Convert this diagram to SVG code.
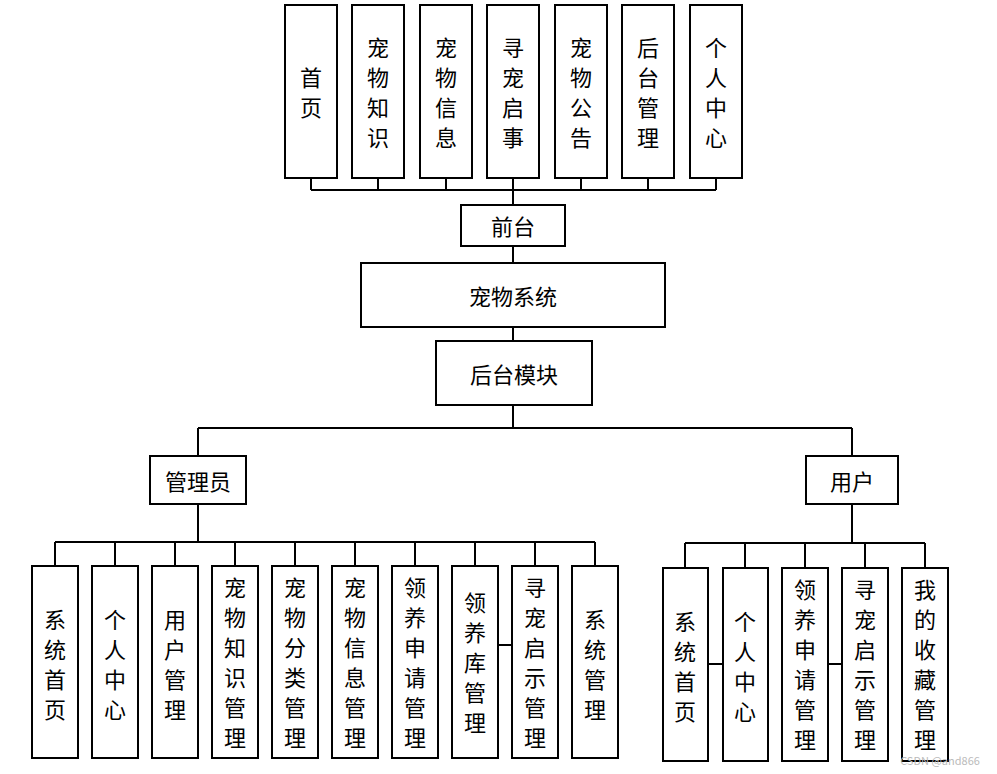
<svg xmlns="http://www.w3.org/2000/svg" width="997" height="774" viewBox="0 0 997 774">
<style>
rect{fill:#fff;stroke:#000;stroke-width:2}
text{font-family:"Noto Sans CJK SC","Liberation Sans",sans-serif;font-size:22px;fill:#000;text-anchor:middle;dominant-baseline:central}
.c{fill:none;stroke:#000;stroke-width:2}
</style>
<rect x="0" y="0" width="997" height="774" style="stroke:none"/>
<g id="connectors">
<path class="c" d="M311,178V190M378,178V190M446,178V190M513,178V190M581,178V190M648,178V190M716,178V190M311,190H716M513,190V205M513,246V263M513,327V341M513,405V428M198,428H852M198,428V456M852,428V456"/>
<path class="c" d="M198,504V542M55,542H595M55,542V566M115,542V566M175,542V566M235,542V566M295,542V566M355,542V566M415,542V566M475,542V566M535,542V566M595,542V566M498,645H512"/>
<path class="c" d="M852,504V543M685,543H925M685,543V568M745,543V568M805,543V568M865,543V568M925,543V568M708,664H723M828,664H842"/>
</g>
<g id="t1"><rect x="285" y="5" width="52" height="173"/><text x="311" y="76">首</text><text x="311" y="106">页</text></g>
<g id="t2"><rect x="352" y="5" width="52" height="173"/><text x="378" y="46">宠</text><text x="378" y="76">物</text><text x="378" y="106">知</text><text x="378" y="136">识</text></g>
<g id="t3"><rect x="420" y="5" width="52" height="173"/><text x="446" y="46">宠</text><text x="446" y="76">物</text><text x="446" y="106">信</text><text x="446" y="136">息</text></g>
<g id="t4"><rect x="487" y="5" width="52" height="173"/><text x="513" y="46">寻</text><text x="513" y="76">宠</text><text x="513" y="106">启</text><text x="513" y="136">事</text></g>
<g id="t5"><rect x="555" y="5" width="52" height="173"/><text x="581" y="46">宠</text><text x="581" y="76">物</text><text x="581" y="106">公</text><text x="581" y="136">告</text></g>
<g id="t6"><rect x="622" y="5" width="52" height="173"/><text x="648" y="46">后</text><text x="648" y="76">台</text><text x="648" y="106">管</text><text x="648" y="136">理</text></g>
<g id="t7"><rect x="690" y="5" width="52" height="173"/><text x="716" y="46">个</text><text x="716" y="76">人</text><text x="716" y="106">中</text><text x="716" y="136">心</text></g>
<g id="front"><rect x="461" y="205" width="104" height="41"/><text x="513" y="225">前台</text></g>
<g id="sys"><rect x="361" y="263" width="304" height="64"/><text x="513" y="295">宠物系统</text></g>
<g id="back"><rect x="436" y="341" width="156" height="64"/><text x="514" y="373">后台模块</text></g>
<g id="admin"><rect x="150" y="456" width="96" height="48"/><text x="198" y="480">管理员</text></g>
<g id="user"><rect x="806" y="456" width="92" height="48"/><text x="852" y="480">用户</text></g>
<g id="a1"><rect x="32" y="566" width="46" height="192"/><text x="55" y="618">系</text><text x="55" y="648">统</text><text x="55" y="678">首</text><text x="55" y="708">页</text></g>
<g id="a2"><rect x="92" y="566" width="46" height="192"/><text x="115" y="618">个</text><text x="115" y="648">人</text><text x="115" y="678">中</text><text x="115" y="708">心</text></g>
<g id="a3"><rect x="152" y="566" width="46" height="192"/><text x="175" y="618">用</text><text x="175" y="648">户</text><text x="175" y="678">管</text><text x="175" y="708">理</text></g>
<g id="a4"><rect x="212" y="566" width="46" height="192"/><text x="235" y="586">宠</text><text x="235" y="616">物</text><text x="235" y="646">知</text><text x="235" y="676">识</text><text x="235" y="706">管</text><text x="235" y="736">理</text></g>
<g id="a5"><rect x="272" y="566" width="46" height="192"/><text x="295" y="586">宠</text><text x="295" y="616">物</text><text x="295" y="646">分</text><text x="295" y="676">类</text><text x="295" y="706">管</text><text x="295" y="736">理</text></g>
<g id="a6"><rect x="332" y="566" width="46" height="192"/><text x="355" y="586">宠</text><text x="355" y="616">物</text><text x="355" y="646">信</text><text x="355" y="676">息</text><text x="355" y="706">管</text><text x="355" y="736">理</text></g>
<g id="a7"><rect x="392" y="566" width="46" height="192"/><text x="415" y="586">领</text><text x="415" y="616">养</text><text x="415" y="646">申</text><text x="415" y="676">请</text><text x="415" y="706">管</text><text x="415" y="736">理</text></g>
<g id="a8"><rect x="452" y="566" width="46" height="192"/><text x="475" y="601">领</text><text x="475" y="631">养</text><text x="475" y="661">库</text><text x="475" y="691">管</text><text x="475" y="721">理</text></g>
<g id="a9"><rect x="512" y="566" width="46" height="192"/><text x="535" y="586">寻</text><text x="535" y="616">宠</text><text x="535" y="646">启</text><text x="535" y="676">示</text><text x="535" y="706">管</text><text x="535" y="736">理</text></g>
<g id="a10"><rect x="572" y="566" width="46" height="192"/><text x="595" y="618">系</text><text x="595" y="648">统</text><text x="595" y="678">管</text><text x="595" y="708">理</text></g>
<g id="u1"><rect x="663" y="568" width="45" height="193"/><text x="685" y="620">系</text><text x="685" y="650">统</text><text x="685" y="680">首</text><text x="685" y="710">页</text></g>
<g id="u2"><rect x="723" y="568" width="45" height="193"/><text x="745" y="620">个</text><text x="745" y="650">人</text><text x="745" y="680">中</text><text x="745" y="710">心</text></g>
<g id="u3"><rect x="782" y="568" width="46" height="193"/><text x="805" y="588">领</text><text x="805" y="618">养</text><text x="805" y="648">申</text><text x="805" y="678">请</text><text x="805" y="708">管</text><text x="805" y="738">理</text></g>
<g id="u4"><rect x="842" y="568" width="46" height="193"/><text x="865" y="588">寻</text><text x="865" y="618">宠</text><text x="865" y="648">启</text><text x="865" y="678">示</text><text x="865" y="708">管</text><text x="865" y="738">理</text></g>
<g id="u5"><rect x="902" y="568" width="46" height="193"/><text x="925" y="588">我</text><text x="925" y="618">的</text><text x="925" y="648">收</text><text x="925" y="678">藏</text><text x="925" y="708">管</text><text x="925" y="738">理</text></g>
<text x="940" y="760" style="font-size:11px;fill:#bbb">CSDN @and866</text>
</svg>
